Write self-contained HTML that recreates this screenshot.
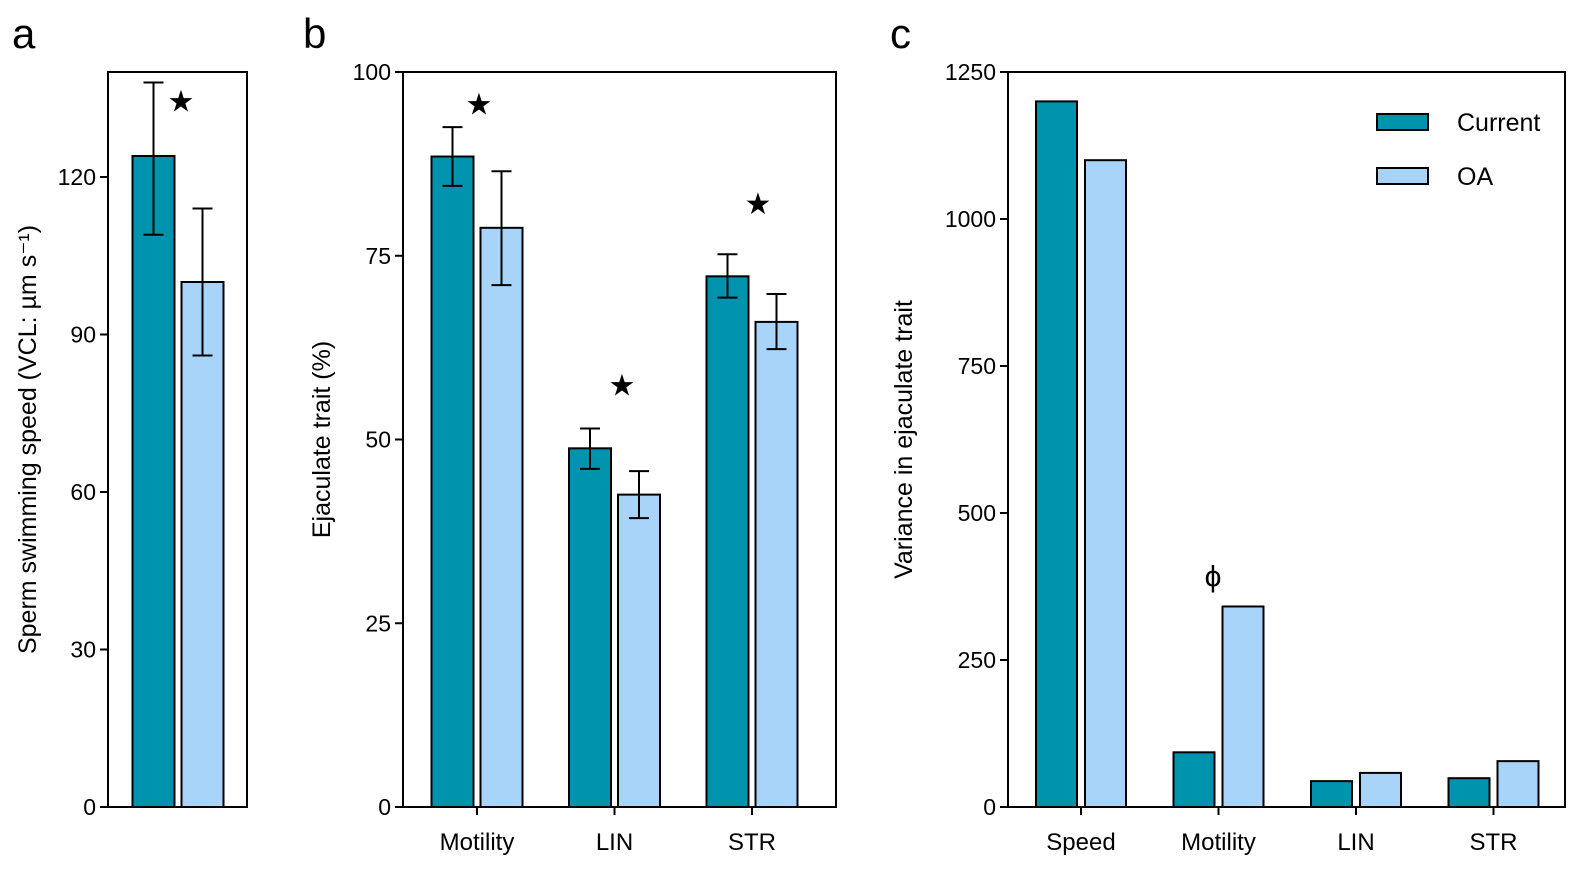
<!DOCTYPE html>
<html><head><meta charset="utf-8"><style>
html,body{margin:0;padding:0;background:#fff;}
svg{display:block;font-family:"Liberation Sans",Arial,sans-serif;}
</style></head><body>
<svg id="chart" width="1575" height="870"></svg>
<script>
// Panel a data
const aCategories = [""];
const aCurrent = [124];
const aCurrentErr = [[109, 138]];
const aOA = [100];
const aOAErr = [[86, 114]];
const aTicks = [0, 30, 60, 90, 120];
// Panel b data
const bCategories = ["Motility", "LIN", "STR"];
const bCurrent = [88.5, 48.8, 72.2];
const bCurrentErr = [[84.5, 92.5], [46, 51.5], [69.3, 75.2]];
const bOA = [78.8, 42.5, 66];
const bOAErr = [[71, 86.5], [39.3, 45.7], [62.3, 69.8]];
const bTicks = [0, 25, 50, 75, 100];
// Panel c data
const cCategories = ["Speed", "Motility", "LIN", "STR"];
const cCurrent = [1200, 93, 44, 49];
const cOA = [1100, 341, 58, 78];
const cTicks = [0, 250, 500, 750, 1000, 1250];

const TEAL = "#0093AE", LIGHT = "#A9D4FA";
const svg = document.getElementById('chart');
const NS = "http://www.w3.org/2000/svg";
function mk(tag, attrs, parent) {
  const e = document.createElementNS(NS, tag);
  for (const k in attrs) e.setAttribute(k, attrs[k]);
  (parent || svg).appendChild(e);
  return e;
}
function txt(s, attrs, parent) { const t = mk('text', attrs, parent); t.textContent = s; return t; }

function panel(cfg) {
  const g = mk('g', {});
  
  
  const y = v => cfg.y0 - v / cfg.max * (cfg.y0 - cfg.y1);
  const box = mk('rect', {x: cfg.x0, y: cfg.y1, width: cfg.x1 - cfg.x0, height: cfg.y0 - cfg.y1, fill: 'none', stroke: '#000', 'stroke-width': 2}, g);
  
  
  cfg.ticks.forEach(t => {
    const l = mk('line', {x1: cfg.x0 - 8, x2: cfg.x0, y1: y(t), y2: y(t), stroke: '#000', 'stroke-width': 2}, g);
    
    
    const tl = txt(String(t), {x: cfg.x0 - 12, y: y(t) + 8, 'text-anchor': 'end', 'font-size': 23}, g);
    
    
  });
  const yt = txt(cfg.ytitle, {transform: `translate(${cfg.ytx},${(cfg.y0 + cfg.y1) / 2}) rotate(-90)`, 'text-anchor': 'middle', 'font-size': 25}, g);
  
  
  const lt = txt(cfg.letter, {x: cfg.lx, y: 48, 'font-size': 42}, g);
  
  
  cfg.cats.forEach((c, i) => {
    const cx = cfg.first + i * cfg.step;
    [[cfg.cur, cfg.curErr, TEAL, -1], [cfg.oa, cfg.oaErr, LIGHT, 1]].forEach(([vals, errs, col, side]) => {
      const bx = side < 0 ? cx - cfg.gap / 2 - cfg.bw : cx + cfg.gap / 2;
      const r = mk('rect', {x: bx, y: y(vals[i]), width: cfg.bw, height: cfg.y0 - y(vals[i]), fill: col, stroke: '#000', 'stroke-width': 2}, g);
      
      
      if (errs) {
        const mx = bx + cfg.bw / 2, e = errs[i];
        const p = mk('path', {d: `M${mx},${y(e[0])}V${y(e[1])}M${mx - 10},${y(e[0])}H${mx + 10}M${mx - 10},${y(e[1])}H${mx + 10}`, stroke: '#000', 'stroke-width': 2, fill: 'none'}, g);
        
        
      }
    });
    if (c) {
      const tk = mk('line', {x1: cx, x2: cx, y1: cfg.y0, y2: cfg.y0 + 8, stroke: '#000', 'stroke-width': 2}, g);
      
      
      const xl = txt(c, {x: cx, y: cfg.y0 + 43, 'text-anchor': 'middle', 'font-size': 24}, g);
      
      
    }
  });
  (cfg.marks || []).forEach(m => {
    const s = txt(m[2], {x: m[0], y: y(m[1]), 'text-anchor': 'middle', 'font-size': m[3]}, g);
    
    
  });
}

panel({name: 'panel-a', letter: 'a', lx: 12, x0: 108, x1: 247, y0: 807, y1: 72, max: 140, ticks: aTicks,
  ytitle: 'Sperm swimming speed (VCL: \u00b5m s\u207b\u00b9)', ytx: 36, cats: aCategories, first: 178, step: 0, bw: 42, gap: 7,
  cur: aCurrent, curErr: aCurrentErr, oa: aOA, oaErr: aOAErr, marks: [[181, 132.5, '\u2605', 30]]});
panel({name: 'panel-b', letter: 'b', lx: 303, x0: 403, x1: 836, y0: 807, y1: 72, max: 100, ticks: bTicks,
  ytitle: 'Ejaculate trait (%)', ytx: 330, cats: bCategories, first: 477, step: 137.5, bw: 42, gap: 7,
  cur: bCurrent, curErr: bCurrentErr, oa: bOA, oaErr: bOAErr,
  marks: [[479, 94.2, '\u2605', 30], [622, 56, '\u2605', 30], [758, 80.7, '\u2605', 30]]});
panel({name: 'panel-c', letter: 'c', lx: 890, x0: 1008, x1: 1565, y0: 807, y1: 72, max: 1250, ticks: cTicks,
  ytitle: 'Variance in ejaculate trait', ytx: 912, cats: cCategories, first: 1081, step: 137.5, bw: 41, gap: 8,
  cur: cCurrent, oa: cOA, marks: [[1213, 375, '\u03d5', 30]]});

const leg = mk('g', {});


[['Current', TEAL, 122], ['OA', LIGHT, 176]].forEach(([n, c, yy]) => {
  const r = mk('rect', {x: 1377, y: yy - 8, width: 51, height: 16, fill: c, stroke: '#000', 'stroke-width': 2}, leg);
  
  
  const t = txt(n, {x: 1457, y: yy + 9, 'font-size': 25}, leg);
  
  
});
</script>
</body></html>
